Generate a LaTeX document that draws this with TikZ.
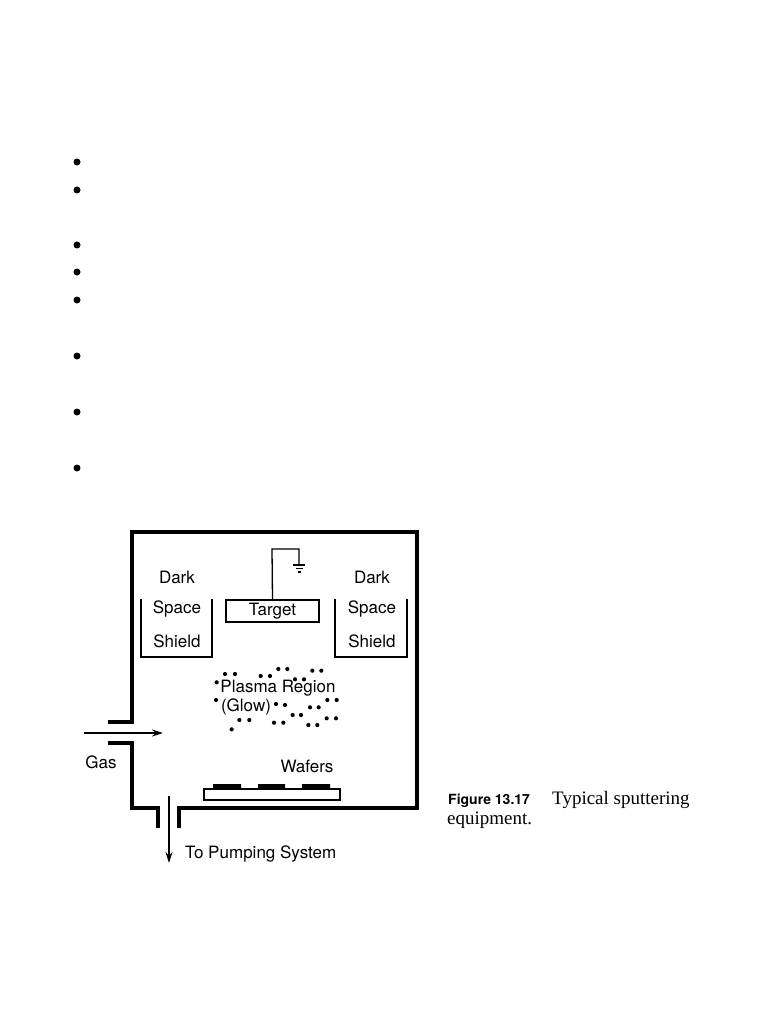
\documentclass[tikz,border=0pt]{standalone}
\usepackage{fontspec}
\setmainfont{TeX Gyre Heros}
\newfontfamily\serif{Liberation Serif}
\usetikzlibrary{arrows.meta}
\begin{document}
\begin{tikzpicture}[x=1pt,y=-1pt,
  wall/.style={line width=3.2pt},
  thin/.style={line width=1.3pt},
  arr/.style={thin,-{Stealth[length=11pt,width=7pt]}},
  lbl/.style={font=\fontsize{17}{19}\selectfont,inner sep=0pt},
  dot/.style={circle,fill=black,inner sep=0pt,minimum size=4.2pt}]
\useasboundingbox (0,0) rectangle (768,1024);
% bullets
\foreach \y in {162,190,245,272,300,356,412,468} \node[dot,minimum size=7pt] at (77,\y) {};
% chamber walls
\draw[wall] (108,722) -- (132,722) -- (132,532) -- (417,532) -- (417,808) -- (179,808) -- (179,828);
\draw[wall] (108,743) -- (132,743) -- (132,808) -- (158,808) -- (158,828);
% target
\node[draw,thin,minimum width=93pt,minimum height=22pt,lbl] (target) at (272.5,611) {Target};
\coordinate (w1) at (272,549); \coordinate (w2) at (299,549); \coordinate (g) at (299,565);
\draw[thin] (target.north) -- (w1) -- (w2) -- (g);
\draw[thin] (293,565) -- (305,565) (295.5,568.5) -- (302.5,568.5) (297.5,572) -- (300.5,572);
% shields
\draw[thin] (141,599) -- (141,657) -- (212,657) -- (212,599);
\draw[thin] (335,599) -- (335,657) -- (407,657) -- (407,599);
\node[lbl] at (177,577) {Dark}; \node[lbl] at (177,609) {Space}; \node[lbl] at (177,641) {Shield};
\node[lbl] at (372,577) {Dark}; \node[lbl] at (372,609) {Space}; \node[lbl] at (372,641) {Shield};
% plasma
\node[lbl] at (278,688) {Plasma Region};
\node[lbl] at (246,707) {(Glow)};
\foreach \zx/\zy in {435/462,465/462,410/487,542/468,570/468,595/447,622/447,645/478,672/478,697/452,724/452,408/540,588/552,615/555,478/600,508/600,455/628,582/608,610/608,638/585,663/585,690/562,716/562,742/540,770/540,740/595,768/595,685/615,712/615}
  \node[dot] at ({80+\zx/3},{520+\zy/3}) {};
% gas
\coordinate (gs) at (84,733); \coordinate (ge) at (163,733);
\draw[arr] (gs) -- (ge);
\node[lbl] at (101,762) {Gas};
% wafers
\node[lbl] at (307,766) {Wafers};
\draw[thin] (204,789) rectangle (340,800);
\fill (213,784) rectangle (241,789) (258,784) rectangle (285,789) (302,784) rectangle (330,789);
% pump
\coordinate (ps) at (169,796); \coordinate (pe) at (169,863);
\draw[arr] (ps) -- (pe);
\node[lbl,anchor=west] at (185,854) {To Pumping System};
% caption
\node[anchor=base west,inner sep=0pt,font=\fontsize{14}{16}\selectfont\bfseries] at (448,804) {Figure 13.17};
\node[anchor=base west,inner sep=0pt,font=\serif\fontsize{19}{21}\selectfont] at (552,804) {Typical sputtering};
\node[anchor=base west,inner sep=0pt,font=\serif\fontsize{19}{21}\selectfont] at (447,824) {equipment.};
\end{tikzpicture}
\end{document}
